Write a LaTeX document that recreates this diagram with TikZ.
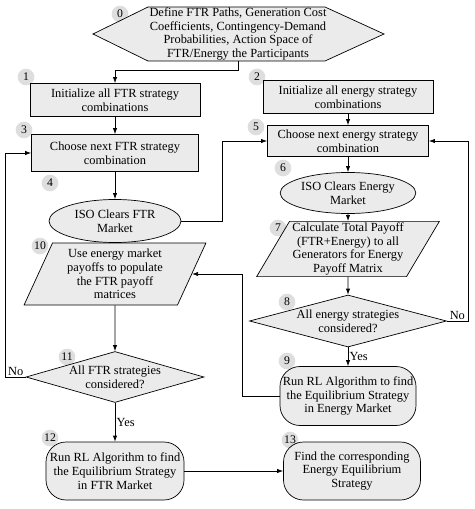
\documentclass[tikz,border=0pt]{standalone}
\usepackage{fontspec}
\setmainfont{Liberation Serif}
\usetikzlibrary{positioning}
\usetikzlibrary{shapes.geometric, arrows.meta}

\definecolor{boxgray}{gray}{0.92}
\definecolor{taggray}{gray}{0.87}

\tikzset{
  base/.style={draw, fill=boxgray, align=center, inner sep=1pt,
    font=\fontsize{10.6}{11.8}\selectfont},
  box/.style={base, rectangle},
  oval/.style={base, ellipse},
  para/.style={base, trapezium, trapezium stretches=true},
  decision/.style={base, diamond, inner sep=0pt},
  rbox/.style={base, rectangle, rounded corners=0.6cm},
  tag/.style={circle, fill=taggray, minimum size=0.5cm, inner sep=0pt,
    font=\fontsize{10}{12}\selectfont},
  arr/.style={-{Latex[length=1.8mm,width=1.3mm]}, line width=0.6pt},
  lbl/.style={font=\fontsize{10.6}{12}\selectfont, inner sep=1pt}
}

\begin{document}
\begin{tikzpicture}[x=0.03cm, y=-0.03cm, line width=0.6pt]
\useasboundingbox (0,0) rectangle (474,509);

% step numbers
\node[tag] (l0) at (120,14) {0};
\node[tag] (l1) at (26,77) {1};
\node[tag] (l2) at (257,77) {2};
\node[tag] (l3) at (24,130) {3};
\node[tag] (l4) at (50,183) {4};
\node[tag] (l5) at (256,127) {5};
\node[tag] (l6) at (283,168) {6};
\node[tag] (l7) at (278,228) {7};
\node[tag] (l8) at (287,302) {8};
\node[tag] (l9) at (287,361) {9};
\node[tag] (l10) at (40,246) {10};
\node[tag] (l11) at (67,357) {11};
\node[tag] (l12) at (50,438) {12};
\node[tag] (l13) at (290,440) {13};

% start block
\draw[fill=boxgray] (93,34) -- (148,7) -- (325,7) -- (384,34) -- (325,61) -- (148,61) -- cycle;
\node[align=center, minimum height=1.62cm, inner sep=0pt, font=\fontsize{10.6}{11.8}\selectfont] (n0) at (238,34)
  {Define FTR Paths, Generation Cost\\Coefficients, Contingency-Demand\\Probabilities, Action Space of\\FTR/Energy the Participants};

% FTR side
\node[box, minimum width=5.1cm, minimum height=0.99cm] (n1) at (115,100) {Initialize all FTR strategy\\combinations};
\node[box, minimum width=5.01cm, minimum height=1.11cm] (n3) at (115,153) {Choose next FTR strategy\\combination};
\node[oval, minimum width=3.96cm, minimum height=1.29cm] (n4) at (115,221) {ISO Clears FTR\\Market};
\node[para, trapezium left angle=67, trapezium right angle=113, minimum width=5.46cm, minimum height=1.86cm] (n10) at (115,274)
  {Use energy market\\payoffs to populate\\the FTR payoff\\matrices};
\node[decision, aspect=3.5, minimum width=5.34cm, minimum height=1.53cm] (n11) at (115,377) {All FTR strategies\\considered?};
\node[rbox, minimum width=4.14cm, minimum height=1.74cm] (n12) at (115,471) {Run RL Algorithm to find\\the Equilibrium Strategy\\in FTR Market};

% energy side
\node[box, minimum width=5.1cm, minimum height=0.99cm] (n2) at (348,97) {Initialize all energy strategy\\combinations};
\node[box, minimum width=4.83cm, minimum height=0.93cm] (n5) at (348,141) {Choose next energy strategy\\combination};
\node[oval, minimum width=3.84cm, minimum height=1.23cm] (n6) at (348,193) {ISO Clears Energy\\Market};
\node[para, trapezium left angle=60, trapezium right angle=120, minimum width=5.49cm, minimum height=1.62cm] (n7) at (348,249)
  {Calculate Total Payoff\\(FTR+Energy) to all\\Generators for Energy\\Payoff Matrix};
\node[decision, aspect=3.8, minimum width=5.91cm, minimum height=1.56cm] (n8) at (348,321) {All energy strategies\\considered?};
\node[rbox, minimum width=4.08cm, minimum height=1.77cm] (n9) at (348,396) {Run RL Algorithm to find\\the Equilibrium Strategy\\in Energy Market};
\node[rbox, minimum width=4.11cm, minimum height=1.74cm] (n13) at (352,471) {Find the corresponding\\Energy Equilibrium\\Strategy};

% connectors
\draw[arr] (n0.south) -- ++(0,9) -| (n1.north);
\draw[arr] (n1) -- (n3);
\draw[arr] (n3) -- (n4);
\draw[arr] (n4.east) -- ++(41,0) |- (n5.west);
\draw[arr] (n2) -- (n5);
\draw[arr] (n5) -- (n6);
\draw[arr] (n6) -- (n7);
\draw[arr] (n7) -- (n8);
\draw[arr] (n8) -- node[lbl, right] {Yes} (n9);
\draw[arr] (n8.east) -- node[lbl, above] {No} ++(21,0) |- (n5.east);
\draw[arr] (n9.west) -- ++(-37,0) |- (n10.east);
\draw[arr] (n10) -- (n11);
\draw[arr] (n11.west) -- node[lbl, above] {No} ++(-20,0) |- (n3.west);
\draw[arr] (n11) -- node[lbl, right] {Yes} (n12);
\draw[arr] (n12) -- (n13);
\end{tikzpicture}
\end{document}
